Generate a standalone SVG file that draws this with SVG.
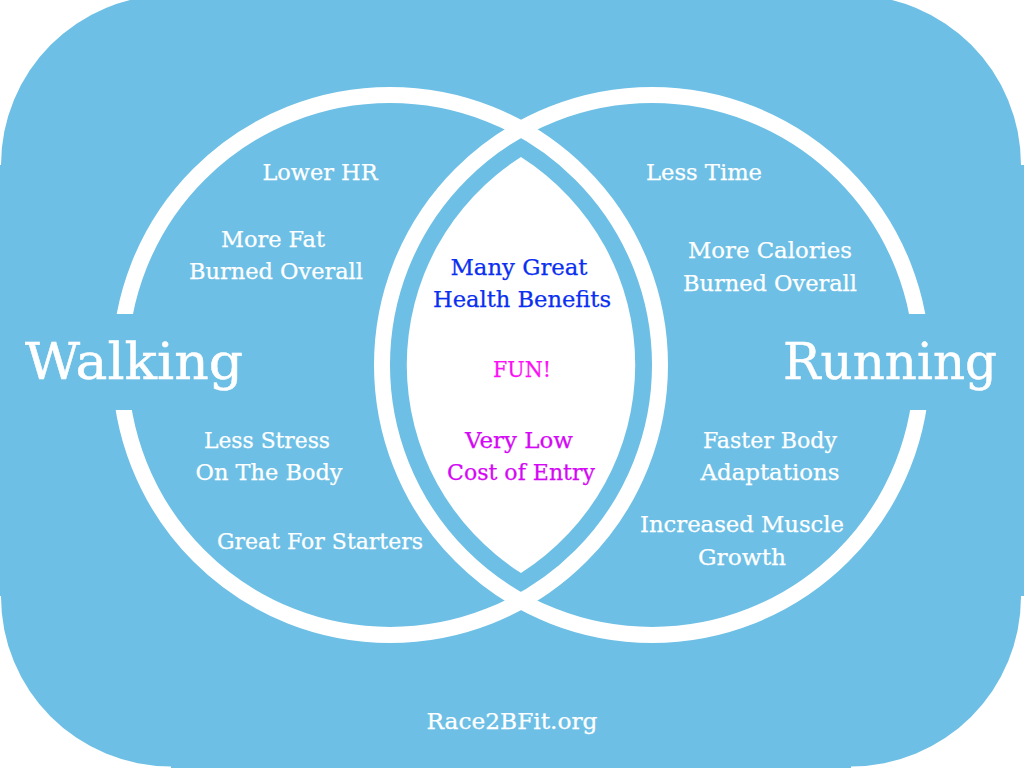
<svg xmlns="http://www.w3.org/2000/svg" width="1024" height="768" viewBox="0 0 1024 768">
<style>
.bg{fill:#6dbfe5}
.ring{fill:none;stroke:#fff;stroke-width:16}
text{font-family:"DejaVu Serif","Liberation Serif",serif;text-anchor:middle;fill:#fff;stroke:#fff;stroke-width:.25;font-size:21.5px}
.big{font-size:51px;stroke-width:.5}
.blue{fill:#0a2ff0;stroke:#0a2ff0}
.mag{fill:#fb10f5;stroke:#fb10f5}
.pur{fill:#d408f5;stroke:#d408f5}
</style>
<g id="background">
<rect class="bg" x="1" y="-5" width="1020" height="771.5" rx="170" ry="170"/>
<rect class="bg" x="0" y="165" width="1024" height="431"/>
<rect class="bg" x="171" y="0" width="680" height="768"/>
</g>
<g id="venn">
<circle id="circle-walking" class="ring" cx="390" cy="365" r="270"/>
<circle id="circle-running" class="ring" cx="652" cy="365" r="270"/>
<rect class="bg" x="95" y="314" width="50" height="96"/>
<rect class="bg" x="897" y="314" width="50" height="96"/>
<path id="lens" fill="#fff" d="M521 157A246.5 246.5 0 0 1 521 573A246.5 246.5 0 0 1 521 157Z"/>
</g>
<g id="labels">
<text class="big" x="134" y="379" textLength="218" lengthAdjust="spacingAndGlyphs">Walking</text>
<text class="big" x="890" y="379" textLength="214" lengthAdjust="spacingAndGlyphs">Running</text>
<text x="320" y="180" textLength="115" lengthAdjust="spacingAndGlyphs">Lower HR</text>
<text x="273" y="247" textLength="104" lengthAdjust="spacingAndGlyphs">More Fat</text>
<text x="276" y="279" textLength="174" lengthAdjust="spacingAndGlyphs">Burned Overall</text>
<text x="267" y="448" textLength="126" lengthAdjust="spacingAndGlyphs">Less Stress</text>
<text x="269" y="480" textLength="147" lengthAdjust="spacingAndGlyphs">On The Body</text>
<text x="320" y="549" textLength="206" lengthAdjust="spacingAndGlyphs">Great For Starters</text>
<text x="704" y="180" textLength="116" lengthAdjust="spacingAndGlyphs">Less Time</text>
<text x="770" y="258" textLength="164" lengthAdjust="spacingAndGlyphs">More Calories</text>
<text x="770" y="291" textLength="174" lengthAdjust="spacingAndGlyphs">Burned Overall</text>
<text x="770" y="448" textLength="134" lengthAdjust="spacingAndGlyphs">Faster Body</text>
<text x="770" y="480" textLength="139" lengthAdjust="spacingAndGlyphs">Adaptations</text>
<text x="742" y="532" textLength="204" lengthAdjust="spacingAndGlyphs">Increased Muscle</text>
<text x="742" y="565" textLength="88" lengthAdjust="spacingAndGlyphs">Growth</text>
<text class="blue" x="519" y="275" textLength="137" lengthAdjust="spacingAndGlyphs">Many Great</text>
<text class="blue" x="522" y="307" textLength="178" lengthAdjust="spacingAndGlyphs">Health Benefits</text>
<text class="mag" x="522" y="377" textLength="58" lengthAdjust="spacingAndGlyphs">FUN!</text>
<text class="pur" x="519" y="448" textLength="108" lengthAdjust="spacingAndGlyphs">Very Low</text>
<text class="pur" x="521" y="480" textLength="148" lengthAdjust="spacingAndGlyphs">Cost of Entry</text>
<text x="512" y="729" textLength="171" lengthAdjust="spacingAndGlyphs">Race2BFit.org</text>
</g>
</svg>
